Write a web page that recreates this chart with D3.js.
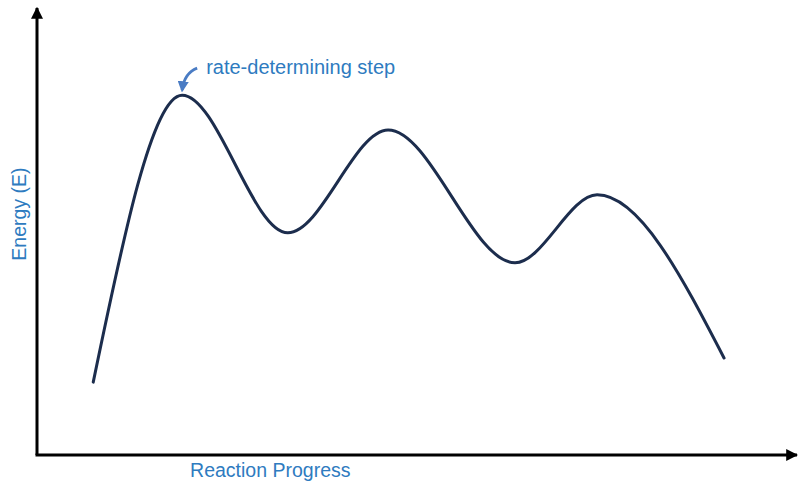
<!DOCTYPE html>
<html>
<head>
<meta charset="utf-8">
<script src="https://cdn.jsdelivr.net/npm/d3@7"></script>
<style>
  body { margin: 0; background: #fff; }
</style>
</head>
<body>
<div id="chart"></div>
<script>
// reaction progress (0-100) and energy (0-100):
// start, then each transition state / intermediate, then the end
var progress = [7.4, 19.1, 33.0, 46.2, 62.9, 73.7, 90.4];
var energy   = [16.3, 80.5, 49.7, 72.7, 43.0, 58.2, 21.7];
var peakLabel = "rate-determining step";
var xLabel = "Reaction Progress";
var yLabel = "Energy (E)";

var width = 800, height = 489;
var margin = {top: 8, right: 3, bottom: 34, left: 37};

var svg = d3.select("#chart")
    .append("svg")
    .attr("width", width)
    .attr("height", height)
    .attr("font-family", "'Liberation Sans', Arial, sans-serif");

var x = d3.scaleLinear()
    .domain([0, 100])
    .range([margin.left, width - margin.right]);

var y = d3.scaleLinear()
    .domain([0, 100])
    .range([height - margin.bottom, margin.top]);

// arrowheads
var defs = svg.append("defs");
defs.append("marker")
    .attr("id", "axisHead")
    .attr("viewBox", "0 0 10 10")
    .attr("refX", 9).attr("refY", 5)
    .attr("markerWidth", 4).attr("markerHeight", 4)
    .attr("orient", "auto")
    .append("path")
    .attr("d", "M0,0 L10,5 L0,10 z")
    .attr("fill", "#000");
defs.append("marker")
    .attr("id", "noteHead")
    .attr("viewBox", "0 0 10 10")
    .attr("refX", 8).attr("refY", 5)
    .attr("markerWidth", 4).attr("markerHeight", 4)
    .attr("orient", "auto")
    .append("path")
    .attr("d", "M0,0 L10,5 L0,10 z")
    .attr("fill", "#4a7cc4");

// axes
svg.append("line")
    .attr("x1", x(0)).attr("y1", y(0))
    .attr("x2", x(0)).attr("y2", y(100))
    .attr("stroke", "#000").attr("stroke-width", 3)
    .attr("marker-end", "url(#axisHead)");
svg.append("line")
    .attr("x1", x(0) - 1.5).attr("y1", y(0))
    .attr("x2", x(100)).attr("y2", y(0))
    .attr("stroke", "#000").attr("stroke-width", 3)
    .attr("marker-end", "url(#axisHead)");

// energy curve - monotone keeps the tops and bottoms flat
var points = progress.map(function(p, i) { return [p, energy[i]]; });
var line = d3.line()
    .x(function(d) { return x(d[0]); })
    .y(function(d) { return y(d[1]); })
    .curve(d3.curveMonotoneX);

svg.append("path")
    .datum(points)
    .attr("d", line)
    .attr("fill", "none")
    .attr("stroke", "#1c2d4d")
    .attr("stroke-width", 3)
    .attr("stroke-linecap", "round");

// annotation on the highest peak
var peak = points[d3.maxIndex(energy)];
var px = x(peak[0]), py = y(peak[1]);
svg.append("path")
    .attr("d", "M" + (px + 15) + "," + (py - 27) +
        " Q" + (px + 2) + "," + (py - 22) + " " + (px) + "," + (py - 5))
    .attr("fill", "none")
    .attr("stroke", "#4a7cc4")
    .attr("stroke-width", 2.8)
    .attr("marker-end", "url(#noteHead)");

svg.append("text")
    .attr("x", px + 24)
    .attr("y", py - 21)
    .attr("font-size", 20)
    .attr("fill", "#2e7bbf")
    .text(peakLabel);

// axis titles
svg.append("text")
    .attr("x", x(30.7))
    .attr("y", 477)
    .attr("text-anchor", "middle")
    .attr("font-size", 19.5)
    .attr("fill", "#2e7bbf")
    .text(xLabel);

svg.append("text")
    .attr("transform", "translate(26," + y(53.9) + ") rotate(-90)")
    .attr("text-anchor", "middle")
    .attr("font-size", 19.5)
    .attr("fill", "#2e7bbf")
    .text(yLabel);
</script>
</body>
</html>
